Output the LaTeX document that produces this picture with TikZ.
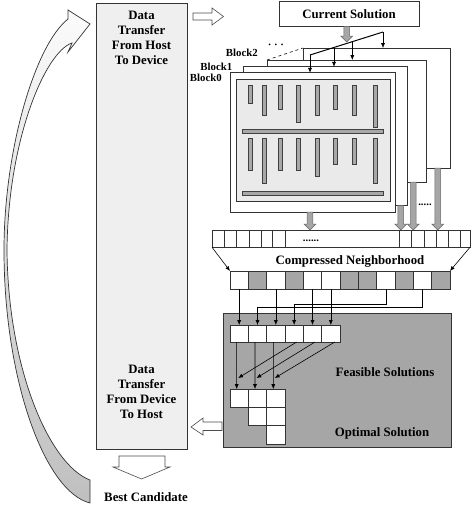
\documentclass[tikz,border=0pt]{standalone}
\usepackage{fontspec}
\setmainfont{Liberation Serif}
\usetikzlibrary{arrows.meta}
\definecolor{colfill}{HTML}{EFEFEF}
\definecolor{panelfill}{HTML}{EAEAEA}
\definecolor{bargray}{HTML}{A8A8A8}
\definecolor{boxgray}{HTML}{A6A6A6}
\newcommand{\grayarr}[3]{%
  \draw[garrow] (#1-2.8,#2) -- (#1+2.8,#2) -- (#1+2.8,#3-6) -- (#1+6,#3-6)
    -- (#1,#3) -- (#1-6,#3-6) -- (#1-2.8,#3-6) -- cycle;}

\begin{document}
\begin{tikzpicture}[x=1pt, y=-1pt,
    box/.style={draw=black!80, line width=0.6pt, inner sep=0pt, outer sep=0pt},
    txt/.style={font=\fontsize{12.8}{15}\selectfont\bfseries, align=center, inner sep=0pt},
    lbl/.style={font=\fontsize{10.8}{12}\selectfont\bfseries, inner sep=0pt},
    cell/.style={box, fill=white, minimum width=18.33pt, minimum height=17pt},
    dcell/.style={cell, fill=boxgray},
    bar/.style={draw=black!75, fill=bargray, line width=0.5pt},
    link/.style={-{Latex[length=4.8pt,width=4pt]}, line width=0.6pt},
    hollow/.style={draw=black!70, fill=white, line width=0.6pt},
    garrow/.style={draw=black!60, fill=boxgray, line width=0.5pt}]
    \useasboundingbox (0,0) rectangle (474,507);

    % loop back arrow
    \draw[draw=black!80, line width=0.7pt, top color=gray!3, middle color=gray!7, bottom color=gray!50]
      (90,503) .. controls (45,492) and (4,380) .. (4,250)
      .. controls (4,150) and (35,45) .. (68,19)
      -- (68,10) -- (90,24) -- (68,52) -- (72,43)
      .. controls (45,52) and (8,140) .. (7,250)
      .. controls (8,370) and (50,465) .. (90,480) -- cycle;

    % host / device column
    \node[box, fill=colfill, minimum width=91pt, minimum height=446pt] (xfer) at (141.5,226) {};
    \node[txt] (h2d) at (141.5,38) {Data\\Transfer\\From Host\\To Device};
    \node[txt] (d2h) at (141.5,391.5) {Data\\Transfer\\From Device\\To Host};
    \draw[hollow] (119,456) -- (165,456) -- (165,467) -- (170,467) -- (141.5,479) -- (113,467) -- (119,467) -- cycle;
    \node[txt] (best) at (146,497) {Best Candidate};
    \draw[hollow] (193,13) -- (212,13) -- (212,8) -- (223.5,16.5) -- (212,25) -- (212,20) -- (193,20) -- cycle;

    % current solution
    \node[box, txt, fill=white, minimum width=140pt, minimum height=24.5pt] (cur) at (349,14) {Current Solution};
    \grayarr{346.7}{26.3}{42}

    % blocks
    \node[box, fill=white, minimum width=147pt, minimum height=120pt] (blk3) at (376.5,108) {};
    \node[box, fill=white, minimum width=159.5pt, minimum height=122pt] (blk2) at (346.75,121) {};
    \node[box, fill=white, minimum width=164pt, minimum height=138.8pt] (blk1) at (325,136.1) {};
    \node[box, fill=white, minimum width=165pt, minimum height=139.3pt] (blk0) at (312.5,142.35) {};
    \draw[dashed, line width=0.6pt] (blk2.north west) -- (blk3.north west);
    \node[lbl] (more) at (276,46) {· · ·};
    \node[lbl, anchor=east] (lb2) at (258,53.3) {Block2};
    \node[lbl, anchor=east] (lb1) at (232.5,66.7) {Block1};
    \node[lbl, anchor=east] (lb0) at (222,78.3) {Block0};

    % threads
    \node[box, fill=panelfill, minimum width=154pt, minimum height=122pt] (panel) at (313,140) {};
    \foreach \x/\b in {250/103,264.3/115,280/109,298.3/122,317/115,335.7/109,354/115,375/127}
      \draw[bar] (\x-2,85) rectangle (\x+2,\b);
    \draw[bar] (242,129) rectangle (383,133);
    \foreach \x/\b in {250/170,264.3/183,280/170,298.3/170,317/176,335.7/164,354/164,375/183}
      \draw[bar] (\x-2,138) rectangle (\x+2,\b);
    \draw[bar] (242,191) rectangle (383,195);

    % dispatch of the current solution
    \coordinate (s0) at (310,55);
    \coordinate (s1) at (334,47.4);
    \coordinate (s2) at (352.3,41.8);
    \coordinate (s3) at (383,32);
    \draw[line width=1pt] (s0) -- (s3);
    \draw[link] (s0) -- (s0 |- blk0.north);
    \draw[link] (s1) -- (s1 |- blk1.north);
    \draw[link] (s2) -- (s2 |- blk2.north);
    \draw[link] (s3) -- (s3 |- blk3.north);

    % blocks to neighborhood
    \grayarr{310}{212}{230}
    \grayarr{400.7}{205.5}{230}
    \grayarr{413.3}{182}{230}
    \grayarr{437.7}{168}{230}
    \node[lbl] (dots1) at (425,205) {.....};

    % neighborhood
    \node[box, fill=white, minimum width=258pt, minimum height=17.3pt] (nbr) at (341,238.6) {};
    \foreach \x in {224,236.7,249.3,261.7,272.7,285,399,411.7,424,436.7,448.3,460}
      \draw[black!80, line width=0.6pt] (\x,230) -- (\x,247.3);
    \node[lbl] (dots2) at (311,241) {......};
    \node[txt] (nbrlbl) at (350,261) {Compressed Neighborhood};
    \foreach \i/\c in {0/cell,1/dcell,2/cell,3/dcell,4/cell,5/cell,6/dcell,7/dcell,8/cell,9/dcell,10/cell,11/dcell}
      \node[\c, minimum height=18pt] (c\i) at ({230+18.33*(\i+0.5)},280) {};
    \draw[link] (nbr.south west) -- (c0.north west);
    \draw[link] (nbr.south east) -- (c11.north east);

    % feasible and optimal
    \node[box, fill=boxgray, minimum width=228pt, minimum height=134pt] (opt) at (337,380) {};
    \foreach \i in {0,...,5}
      \node[cell] (f\i) at ({230+18.33*(\i+0.5)},333.5) {};
    \node[cell, minimum height=18.33pt] (t00) at (239.2,398.2) {};
    \node[cell, minimum height=18.33pt] (t01) at (257.5,398.2) {};
    \node[cell, minimum height=18.33pt] (t02) at (275.8,398.2) {};
    \node[cell, minimum height=18.33pt] (t11) at (257.5,416.5) {};
    \node[cell, minimum height=18.33pt] (t12) at (275.8,416.5) {};
    \node[cell, minimum height=18.33pt] (t22) at (275.8,434.8) {};

    \draw[link] (c0.south) -- (f0.north);
    \draw[link] (c2.south) -- (f2.north);
    \draw[link] (c4.south) -- (f4.north);
    \draw[link] (c5.south) -- (f5.north);
    \draw[link] (c8.south) -- ++(0,15.5) -| (f3.north);
    \draw[link] (c10.south) -- ++(0,18.5) -| (f1.north);

    \draw[link] ([xshift=-2.5pt]f0.south) -- ([xshift=-2.5pt]t00.north);
    \draw[link] ([xshift=-2.5pt]f1.south) -- ([xshift=-2.5pt]t01.north);
    \draw[link] ([xshift=-2.5pt]f2.south) -- ([xshift=-2.5pt]t02.north);
    \draw[link] ([xshift=2.5pt]f3.south) -- ([xshift=-1pt,yshift=11pt]t00.north);
    \draw[link] ([xshift=2.5pt]f4.south) -- ([xshift=-1pt,yshift=11pt]t01.north);
    \draw[link] ([xshift=4pt]f5.south) -- ([xshift=-1pt,yshift=11pt]t02.north);

    \node[txt] (feas) at (385,372) {Feasible Solutions};
    \node[txt] (optl) at (382,433) {Optimal Solution};
    \draw[hollow] (222,422) -- (203,422) -- (203,418) -- (191,427) -- (203,435) -- (203,430.5) -- (222,430.5) -- cycle;
\end{tikzpicture}
\end{document}
